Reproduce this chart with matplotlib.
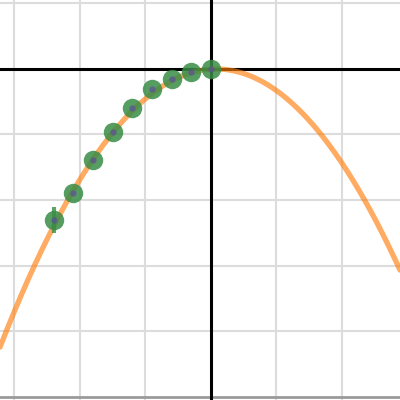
import numpy as np
import matplotlib
matplotlib.use('Agg')
import matplotlib.pyplot as plt

# sample points (one grid square = 1 unit)
x_pts = [-2.4, -2.1, -1.8, -1.5, -1.2, -0.9, -0.6, -0.3, 0.0]
y_pts = [-2.30, -1.90, -1.385, -0.957, -0.600, -0.310, -0.148, -0.041, 0.0]
y_err = [0.20, 0, 0, 0, 0, 0, 0, 0, 0]

# fitted curve, quadratic coefficients (highest power first)
curve_coef = [-0.39, 0.062, -0.0025]

x_range = (-3.22, 2.885)
y_range = (-5.053, 1.053)
grid_x = [-3, -2, -1, 1, 2]
grid_y = [1, -1, -2, -3, -4]

fig = plt.figure(figsize=(4, 4), dpi=100)
ax = fig.add_axes([0, 0, 1, 1])
ax.set_xlim(*x_range)
ax.set_ylim(*y_range)
ax.axis('off')

# grid
for gx in grid_x:
    ax.axvline(gx, color='#dcdcdc', lw=1.5, zorder=0)
for gy in grid_y:
    ax.axhline(gy, color='#dcdcdc', lw=1.5, zorder=0)
ax.axhline(-5, color='#9a9a9a', lw=2, zorder=1)

# axes
ax.axhline(0, color='black', lw=2.2, zorder=2)
ax.axvline(0, color='black', lw=2.2, zorder=2)

# curve
xs = np.linspace(x_range[0], x_range[1], 400)
ax.plot(xs, np.polyval(curve_coef, xs), color='#ff7f0e', alpha=0.65, lw=3.8,
        solid_capstyle='round', zorder=3)

# points
ax.errorbar(x_pts, y_pts, yerr=y_err, fmt='none', ecolor='#388c46', alpha=0.8,
            elinewidth=3, zorder=4)
ax.plot(x_pts, y_pts, 'o', color='#388c46', alpha=0.85, ms=14, mew=0, zorder=4)
ax.plot(x_pts, y_pts, 'o', color='#6042a6', alpha=0.6, ms=4.5, mew=0, zorder=5)

fig.savefig('out.png', dpi=100)
